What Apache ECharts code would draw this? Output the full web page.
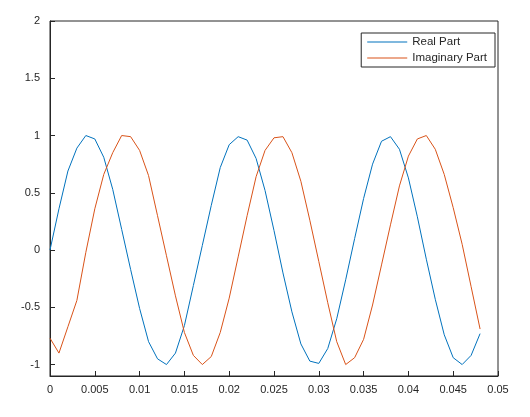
<!DOCTYPE html>
<html>
<head>
<meta charset="utf-8">
<script src="https://cdn.jsdelivr.net/npm/echarts@6/dist/echarts.min.js"></script>
<style>html,body{margin:0;background:#fff}#c{width:530px;height:417px}</style>
</head>
<body>
<div id="c"></div>
<script>
const step = 0.001;
const realPart = [0, 0.36, 0.69, 0.89, 1.0, 0.97, 0.81, 0.53, 0.18, -0.17, -0.51, -0.80, -0.95, -1.0, -0.90, -0.66, -0.31, 0.04, 0.39, 0.72,
  0.92, 0.99, 0.96, 0.80, 0.52, 0.17, -0.20, -0.54, -0.82, -0.97, -0.99, -0.86, -0.60, -0.26, 0.10, 0.45, 0.75, 0.95, 0.99, 0.88,
  0.63, 0.29, -0.08, -0.43, -0.74, -0.94, -1.0, -0.92, -0.73];
const imagPart = [-0.77, -0.90, -0.67, -0.44, -0.02, 0.36, 0.66, 0.85, 1.0, 0.99, 0.87, 0.65, 0.30, -0.05, -0.40, -0.72, -0.92, -1.0, -0.93, -0.72,
  -0.42, -0.06, 0.30, 0.64, 0.87, 0.98, 0.99, 0.85, 0.60, 0.26, -0.10, -0.46, -0.80, -1.0, -0.94, -0.78, -0.48, -0.13, 0.22, 0.56,
  0.82, 0.97, 1.0, 0.88, 0.66, 0.37, 0.05, -0.32, -0.69];
const yTicks = [-1, -0.5, 0, 0.5, 1, 1.5, 2];

const toPoints = arr => arr.map((v, i) => [+(i * step).toFixed(3), v]);

const chart = echarts.init(document.getElementById('c'));
const axisLine = { show: true, onZero: false, lineStyle: { color: '#262626', width: 1 } };
const font = { color: '#262626', fontFamily: 'Liberation Sans, Arial, sans-serif', fontSize: 11 };

chart.setOption({
  animation: false,
  grid: { left: 50, right: 32, top: 21, bottom: 41, show: true, borderColor: '#262626', borderWidth: 1 },
  legend: {
    top: 33, right: 35, orient: 'vertical', itemGap: 4, itemWidth: 40, itemHeight: 1,
    backgroundColor: '#fff', borderColor: '#262626', borderWidth: 1, padding: [3, 8, 3, 6],
    icon: 'rect', textStyle: { ...font, fontSize: 11.5 },
    data: ['Real Part', 'Imaginary Part']
  },
  xAxis: {
    type: 'value', min: 0, max: 0.05, interval: 0.005,
    axisLine, splitLine: { show: false },
    axisTick: { inside: true, length: 5, lineStyle: { color: '#262626' } },
    axisLabel: { ...font, margin: 8 }
  },
  yAxis: {
    type: 'value', min: -1.1, max: 2,
    axisLine, splitLine: { show: false },
    axisTick: { inside: true, length: 5, customValues: yTicks, lineStyle: { color: '#262626' } },
    axisLabel: { ...font, margin: 10, customValues: yTicks }
  },
  series: [
    { name: 'Real Part', type: 'line', data: toPoints(realPart), symbol: 'none', lineStyle: { color: '#0072BD', width: 1 }, itemStyle: { color: '#0072BD' } },
    { name: 'Imaginary Part', type: 'line', data: toPoints(imagPart), symbol: 'none', lineStyle: { color: '#D95319', width: 1 }, itemStyle: { color: '#D95319' } }
  ]
});
</script>
</body>
</html>
